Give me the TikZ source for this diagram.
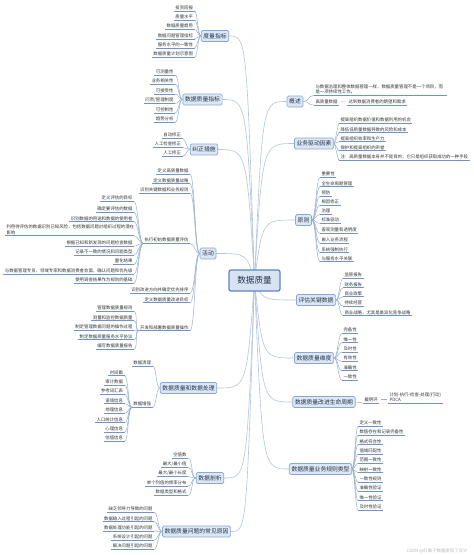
\documentclass[tikz,border=0pt]{standalone}
\usepackage{fontspec}
\setmainfont{Noto Sans CJK SC}
\usetikzlibrary{calc}
\definecolor{txt}{HTML}{333333}
\definecolor{toptxt}{HTML}{24344D}
\definecolor{topfill}{HTML}{DDE7F4}
\definecolor{topdraw}{HTML}{87A9D7}
\definecolor{cenfill}{HTML}{D7E3F3}
\definecolor{cendraw}{HTML}{5B86C4}
\definecolor{ulcol}{HTML}{7094CD}
\definecolor{lcol}{HTML}{98B0D3}
\definecolor{mcol}{HTML}{B4C5DE}
\definecolor{wmcol}{HTML}{B8B8B8}
\pgfdeclarelayer{bottom}
\pgfdeclarelayer{wires}
\pgfsetlayers{bottom,wires,main}
\tikzset{
  uline/.style={draw=ulcol,line width=0.6pt},
  leaf/.style={font=\fontsize{4.4}{5.3}\selectfont,text=txt,inner xsep=1.3pt,inner ysep=1pt,
    append after command={(\tikzlastnode.south west) edge[uline] (\tikzlastnode.south east)}},
  topic/.style={font=\fontsize{5.8}{7}\selectfont,text=toptxt,fill=topfill,draw=topdraw,line width=0.7pt,
    rounded corners=1.5pt,inner xsep=2.2pt,inner ysep=2.4pt,minimum height=11pt},
  hub/.style={font=\fontsize{8.6}{10}\selectfont,text=toptxt,fill=cenfill,draw=cendraw,line width=1.3pt,
    rounded corners=2pt,minimum width=51pt,minimum height=21pt},
  mconn/.style={draw=mcol,line width=0.6pt},
  lconn/.style={draw=lcol,line width=0.5pt},
  wmark/.style={font=\fontsize{4.4}{5.3}\selectfont,text=wmcol,anchor=east}
}
\newcommand\mkLeft[4]{\node[leaf,anchor=south east] (#1) at (#2,#3+3.4) {#4};}
\newcommand\mkRight[4]{\node[leaf,anchor=south west] (#1) at (#2,#3+3.4) {#4};}
\begin{document}
\begin{tikzpicture}[x=1pt,y=-1pt]
\begin{pgfonlayer}{bottom}
\fill[white] (0,0) rectangle (474,555);
\end{pgfonlayer}
\useasboundingbox (0,0) rectangle (474,555);

% ---------- center and main topics ----------
\node[hub] (C) at (254.5,280.5) {数据质量};

\node[topic] (M1) at (215,36) {度量指标};
\node[topic] (M2) at (202.5,99.5) {数据质量指标};
\node[topic] (M3) at (204,149.5) {纠正措施};
\node[topic] (M4) at (208,253.5) {活动};
\node[topic] (M5) at (188.5,388) {数据质量和数据处理};
\node[topic] (M6) at (210,478) {数据剖析};
\node[topic] (M7) at (196.5,531.5) {数据质量问题的常见原因};

\node[topic] (R1) at (295,101.5) {概述};
\node[topic] (R2) at (314,143.5) {业务驱动因素};
\node[topic] (R3) at (303.5,220) {原则};
\node[topic] (R4) at (316,300) {评估关键数据};
\node[topic] (R5) at (314,358) {数据质量维度};
\node[topic] (R6) at (324,402) {数据质量改进生命周期};
\node[topic] (R7) at (320.5,469) {数据质量业务规则类型};

% ---------- left leaves ----------
\mkLeft{a1}{194.5}{7.5}{投资回报}
\mkLeft{a2}{194.5}{16.8}{质量水平}
\mkLeft{a3}{194.5}{26.1}{数据质量趋势}
\mkLeft{a4}{194.5}{35.4}{数据问题管理指标}
\mkLeft{a5}{194.5}{44.7}{服务水平的一致性}
\mkLeft{a6}{194.5}{54}{数据质量计划示意图}

\mkLeft{b1}{175}{71.5}{可测量性}
\mkLeft{b2}{175}{81}{业务相关性}
\mkLeft{b3}{175}{90.5}{可接受性}
\mkLeft{b4}{175}{100}{问责/管理制度}
\mkLeft{b5}{175}{109.5}{可控制性}
\mkLeft{b6}{175}{119}{趋势分析}

\mkLeft{c1}{182.5}{135}{自动修正}
\mkLeft{c2}{182.5}{144}{人工检查修正}
\mkLeft{c3}{182.5}{153}{人工修正}

\mkLeft{d1}{190}{171}{定义高质量数据}
\mkLeft{d2}{190}{180.3}{定义数据质量战略}
\mkLeft{d3}{190}{190}{识别关键数据和业务规则}
\mkLeft{d4}{190}{240}{执行初始数据质量评估}
\mkLeft{d5}{190}{290}{识别改进方向并确定优先排序}
\mkLeft{d6}{190}{299.3}{定义数据质量改进目标}
\mkLeft{d7}{190}{327.3}{开发和部署数据质量操作}

\mkLeft{e1}{134}{198}{定义评估的目标}
\mkLeft{e2}{134}{208.7}{确定要评估的数据}
\mkLeft{e3}{134}{218.3}{识别数据的用途和数据的使用者}
\node[leaf,anchor=south east,align=left,text width=126pt] (e4) at (134,232.3+3.4)
  {利用待评估的数据识别已知风险，包括数据问题对组织过程的潜在\\影响};
\mkLeft{e5}{134}{242.7}{根据已知和新发现的问题检查数据}
\mkLeft{e6}{134}{251.7}{记录不一致的情况和问题类型}
\mkLeft{e7}{134}{261}{量化结果}
\mkLeft{e8}{134}{270.7}{与数据管理专员、领域专家和数据消费者会面，确认问题和优先级}
\mkLeft{e9}{134}{280}{使用调查结果作为规划的基础}

\mkLeft{f1}{134}{308}{管理数据质量规则}
\mkLeft{f2}{134}{317.3}{测量和监控数据质量}
\mkLeft{f3}{134}{327}{制定管理数据问题的操作过程}
\mkLeft{f4}{134}{336.3}{制定数据质量服务水平协议}
\mkLeft{f5}{134}{346}{编写数据质量报告}

\mkLeft{g1}{152.5}{362.5}{数据清理}
\mkLeft{g2}{152.5}{404}{数据增强}

\mkLeft{h1}{124.5}{372.3}{时间戳}
\mkLeft{h2}{124.5}{381.7}{审计数据}
\mkLeft{h3}{124.5}{391}{参考词汇表}
\mkLeft{h4}{124.5}{400.3}{语境信息}
\mkLeft{h5}{124.5}{410}{地理信息}
\mkLeft{h6}{124.5}{419.3}{人口统计信息}
\mkLeft{h7}{124.5}{428.7}{心理信息}
\mkLeft{h8}{124.5}{438}{估值信息}

\mkLeft{i1}{188}{455}{空值数}
\mkLeft{i2}{188}{464}{最大/最小值}
\mkLeft{i3}{188}{473.3}{最大/最小长度}
\mkLeft{i4}{188}{482.7}{单个列值的频率分布}
\mkLeft{i5}{188}{492}{数据类型和格式}

\mkLeft{j1}{154}{508.7}{缺乏领导力导致的问题}
\mkLeft{j2}{154}{518.3}{数据输入过程引起的问题}
\mkLeft{j3}{154}{527.7}{数据处理功能引起的问题}
\mkLeft{j4}{154}{536.7}{系统设计引起的问题}
\mkLeft{j5}{154}{546}{解决问题引起的问题}

% ---------- right leaves ----------
\node[leaf,anchor=south west,align=left,text width=130pt] (k1) at (314,92+3.4)
  {与数据治理和整体数据管理一样，数据质量管理不是一个项目，而\\是一项持续性工作。};
\mkRight{k2}{314}{101.7}{高质量数据}
\mkRight{k3}{347}{101.7}{达到数据消费者的期望和需求}

\mkRight{l1}{339}{120}{提高组织数据价值和数据利用的机会}
\mkRight{l2}{339}{129.3}{降低低质量数据导致的风险和成本}
\mkRight{l3}{339}{138.3}{提高组织效率和生产力}
\mkRight{l4}{339}{147.3}{保护和提高组织的声誉}
\mkRight{l5}{339}{156.7}{注：高质量数据本身并不是目的，它只是组织获取成功的一种手段}

\mkRight{m1}{320}{174}{重要性}
\mkRight{m2}{320}{183.3}{全生命周期管理}
\mkRight{m3}{320}{192.7}{预防}
\mkRight{m4}{320}{201.7}{根因修正}
\mkRight{m5}{320}{211}{治理}
\mkRight{m6}{320}{220}{标准驱动}
\mkRight{m7}{320}{230}{客观测量和透明度}
\mkRight{m8}{320}{240}{嵌入业务流程}
\mkRight{m9}{320}{249.3}{系统强制执行}
\mkRight{m10}{320}{258.3}{与服务水平关联}

\mkRight{n1}{343}{275}{监管报告}
\mkRight{n2}{343}{284.3}{财务报告}
\mkRight{n3}{343}{293.3}{商业政策}
\mkRight{n4}{343}{302.7}{持续经营}
\mkRight{n5}{343}{312.3}{商业战略，尤其是差异化竞争战略}

\mkRight{o1}{342}{330}{完备性}
\mkRight{o2}{342}{339.3}{唯一性}
\mkRight{o3}{342}{348.7}{及时性}
\mkRight{o4}{342}{358}{有效性}
\mkRight{o5}{342}{367.3}{准确性}
\mkRight{o6}{342}{376.7}{一致性}

\mkRight{p1}{363}{399.5}{戴明环}
\node[leaf,anchor=south west,align=left] (p2) at (388,399.5+3.4) {计划-执行-检查-处理(行动)\\PDCA};

\mkRight{q1}{358}{422.7}{定义一致性}
\mkRight{q2}{358}{431.7}{数值存在和记录完备性}
\mkRight{q3}{358}{441.3}{格式符合性}
\mkRight{q4}{358}{450.7}{值域匹配性}
\mkRight{q5}{358}{460}{范围一致性}
\mkRight{q6}{358}{469.3}{映射一致性}
\mkRight{q7}{358}{478.7}{一致性规则}
\mkRight{q8}{358}{488}{准确性验证}
\mkRight{q9}{358}{497.3}{唯一性验证}
\mkRight{q10}{358}{506.7}{及时性验证}

\node[wmark] (wm) at (471,551) {CSDN @红鼻子数据发现了设计};

% ---------- connectors ----------
\begin{pgfonlayer}{wires}
\foreach \q in {M1,M2,M3,M4,M5,M6,M7}
  \draw[mconn] (C.center) .. controls ($(C.center |- \q.east)+(-8,0)$) .. (\q.east);
\foreach \q in {R1,R2,R3,R4,R5,R6,R7}
  \draw[mconn] (C.center) .. controls ($(C.center |- \q.west)+(8,0)$) .. (\q.west);

\foreach \q in {a1,a2,a3,a4,a5,a6}
  \draw[lconn] (M1.west) .. controls +(-3,0) and +(3,0) .. (\q.south east);
\foreach \q in {b1,b2,b3,b4,b5,b6}
  \draw[lconn] (M2.west) .. controls +(-4,0) and +(4,0) .. (\q.south east);
\foreach \q in {c1,c2,c3}
  \draw[lconn] (M3.west) .. controls +(-3.5,0) and +(3.5,0) .. (\q.south east);
\foreach \q in {d1,d2,d3,d4,d5,d6,d7}
  \draw[lconn] (M4.west) .. controls +(-5,0) and +(5,0) .. (\q.south east);
\foreach \q in {e1,e2,e3,e4,e5,e6,e7,e8,e9}
  \draw[lconn] (d4.south west) .. controls +(-4,0) and +(4,0) .. (\q.south east);
\foreach \q in {f1,f2,f3,f4,f5}
  \draw[lconn] (d7.south west) .. controls +(-4,0) and +(4,0) .. (\q.south east);
\foreach \q in {g1,g2}
  \draw[lconn] (M5.west) .. controls +(-4,0) and +(4,0) .. (\q.south east);
\foreach \q in {h1,h2,h3,h4,h5,h6,h7,h8}
  \draw[lconn] (g2.south west) .. controls +(-4,0) and +(4,0) .. (\q.south east);
\foreach \q in {i1,i2,i3,i4,i5}
  \draw[lconn] (M6.west) .. controls +(-5,0) and +(5,0) .. (\q.south east);
\foreach \q in {j1,j2,j3,j4,j5}
  \draw[lconn] (M7.west) .. controls +(-4,0) and +(4,0) .. (\q.south east);

\foreach \q in {k1,k2}
  \draw[lconn] (R1.east) .. controls +(6,0) and +(-6,0) .. (\q.south west);
\draw[lconn] ([xshift=1.5pt]k2.east) -- ([xshift=-1.5pt]k3.west);
\foreach \q in {l1,l2,l3,l4,l5}
  \draw[lconn] (R2.east) .. controls +(1,0) and +(-1,0) .. (\q.south west);
\foreach \q in {m1,m2,m3,m4,m5,m6,m7,m8,m9,m10}
  \draw[lconn] (R3.east) .. controls +(4,0) and +(-4,0) .. (\q.south west);
\foreach \q in {n1,n2,n3,n4,n5}
  \draw[lconn] (R4.east) .. controls +(3.5,0) and +(-3.5,0) .. (\q.south west);
\foreach \q in {o1,o2,o3,o4,o5,o6}
  \draw[lconn] (R5.east) .. controls +(4,0) and +(-4,0) .. (\q.south west);
\draw[lconn] (R6.east) .. controls +(3.5,0) and +(-3.5,0) .. (p1.south west);
\draw[lconn] ([xshift=1.5pt]p1.east) -- ([xshift=-1.5pt]p1.east -| p2.west);
\foreach \q in {q1,q2,q3,q4,q5,q6,q7,q8,q9,q10}
  \draw[lconn] (R7.east) .. controls +(2.5,0) and +(-2.5,0) .. (\q.south west);
\end{pgfonlayer}
\end{tikzpicture}
\end{document}
